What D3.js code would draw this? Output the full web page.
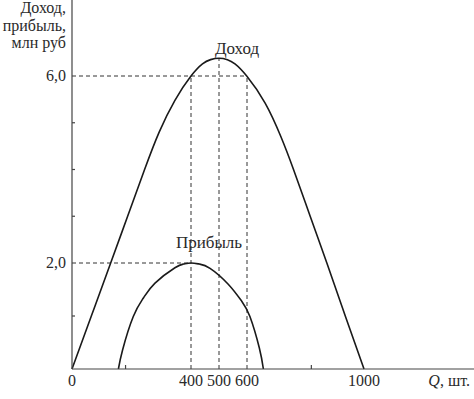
<!DOCTYPE html>
<html>
<head>
<meta charset="utf-8">
<script src="https://cdn.jsdelivr.net/npm/d3@7"></script>
<style>
  body { margin: 0; background: #fff; }
  svg text { font-family: "Liberation Serif", "DejaVu Serif", serif; fill: #2a2a2a; }
</style>
</head>
<body>
<div id="chart"></div>
<script>
// values (Q in pieces, money in mln rub)
const revenueQ = [0, 65, 130, 187, 244, 293, 346, 400, 441, 470, 500, 530, 557, 599, 662, 716, 759, 816, 873, 936, 1000];
const revenueV = [0, 1, 2, 3, 4, 4.8, 5.48, 6, 6.26, 6.35, 6.38, 6.35, 6.26, 6, 5.42, 4.7, 4, 3, 2, 1, 0];

const profitQ = [156, 170, 206, 240, 279, 346, 375, 400, 430, 468, 533, 581, 610, 642, 656];
const profitV = [0, 0.36, 0.99, 1.34, 1.62, 1.91, 1.98, 2.0, 1.98, 1.90, 1.60, 1.28, 0.99, 0.40, 0];

const xLabels = [0, 400, 500, 600, 1000];
const xMinor = [180, 820];
const yLabels = [2, 6];
const yMinor = [1, 3, 4, 5];
const yTitle = ["Доход,", "прибыль,", "млн руб"];

const W = 474, H = 399;

const svg = d3.select("#chart").append("svg")
    .attr("width", W)
    .attr("height", H);

// the drawing is hand made, so the scales are piecewise
const x = d3.scaleLinear()
    .domain([0, 400, 500, 600, 1000])
    .range([72, 191, 219, 247, 364]);

const y = d3.scaleLinear()
    .domain([0, 2, 6])
    .range([369, 263, 76]);

const fmt = d => d3.format(".1f")(d).replace(".", ",");

// dashed guides
const guides = svg.append("g")
    .attr("stroke", "#333")
    .attr("stroke-width", 1)
    .attr("stroke-dasharray", "4,3")
    .attr("fill", "none");

guides.append("line")
    .attr("x1", x(0)).attr("x2", x(600))
    .attr("y1", y(6)).attr("y2", y(6));
guides.append("line")
    .attr("x1", x(0)).attr("x2", x(400))
    .attr("y1", y(2)).attr("y2", y(2));
guides.append("line")
    .attr("x1", x(400)).attr("x2", x(400))
    .attr("y1", y(0)).attr("y2", y(6));
guides.append("line")
    .attr("x1", x(500)).attr("x2", x(500))
    .attr("y1", y(0)).attr("y2", y(d3.max(revenueV)));
guides.append("line")
    .attr("x1", x(600)).attr("x2", x(600))
    .attr("y1", y(0)).attr("y2", y(6));

// curves
const line = d3.line()
    .x(d => x(d[0]))
    .y(d => y(d[1]))
    .curve(d3.curveNatural);

svg.append("path")
    .datum(d3.zip(revenueQ, revenueV))
    .attr("d", line)
    .attr("fill", "none")
    .attr("stroke", "#1a1a1a")
    .attr("stroke-width", 1.6);

svg.append("path")
    .datum(d3.zip(profitQ, profitV))
    .attr("d", line)
    .attr("fill", "none")
    .attr("stroke", "#1a1a1a")
    .attr("stroke-width", 1.6);

// axes
const axes = svg.append("g")
    .attr("stroke", "#444")
    .attr("stroke-width", 1.2);

axes.append("line")
    .attr("x1", x(0)).attr("x2", x(0))
    .attr("y1", 0).attr("y2", y(0));
axes.append("line")
    .attr("x1", x(0)).attr("x2", W)
    .attr("y1", y(0)).attr("y2", y(0));

axes.selectAll(".ytick")
    .data(yMinor)
    .enter()
    .append("line")
    .attr("class", "ytick")
    .attr("x1", x(0)).attr("x2", x(0) + 3)
    .attr("y1", d => y(d)).attr("y2", d => y(d));

axes.selectAll(".xtick")
    .data(xMinor)
    .enter()
    .append("line")
    .attr("class", "xtick")
    .attr("x1", d => x(d)).attr("x2", d => x(d))
    .attr("y1", y(0)).attr("y2", y(0) - 4);

// tick labels
svg.selectAll(".ylab")
    .data(yLabels)
    .enter()
    .append("text")
    .attr("class", "ylab")
    .attr("x", 66)
    .attr("y", d => y(d) + 5)
    .style("text-anchor", "end")
    .style("font-size", "16px")
    .text(fmt);

svg.selectAll(".xlab")
    .data(xLabels)
    .enter()
    .append("text")
    .attr("class", "xlab")
    .attr("x", d => x(d))
    .attr("y", 386)
    .style("text-anchor", "middle")
    .style("font-size", "16px")
    .text(d => d);

const qLab = svg.append("text")
    .attr("x", 470)
    .attr("y", 386)
    .style("text-anchor", "end")
    .style("font-size", "16px");
qLab.append("tspan").style("font-style", "italic").text("Q");
qLab.append("tspan").text(", шт.");

// y title
svg.selectAll(".ytitle")
    .data(yTitle)
    .enter()
    .append("text")
    .attr("class", "ytitle")
    .attr("x", 66)
    .attr("y", (d, i) => 13 + i * 17.5)
    .style("text-anchor", "end")
    .style("font-size", "16px")
    .text(d => d);

// curve names
svg.append("text")
    .attr("x", 237)
    .attr("y", 54)
    .style("text-anchor", "middle")
    .style("font-size", "17px")
    .text("Доход");

svg.append("text")
    .attr("x", 209)
    .attr("y", 248)
    .style("text-anchor", "middle")
    .style("font-size", "17px")
    .text("Прибыль");
</script>
</body>
</html>
